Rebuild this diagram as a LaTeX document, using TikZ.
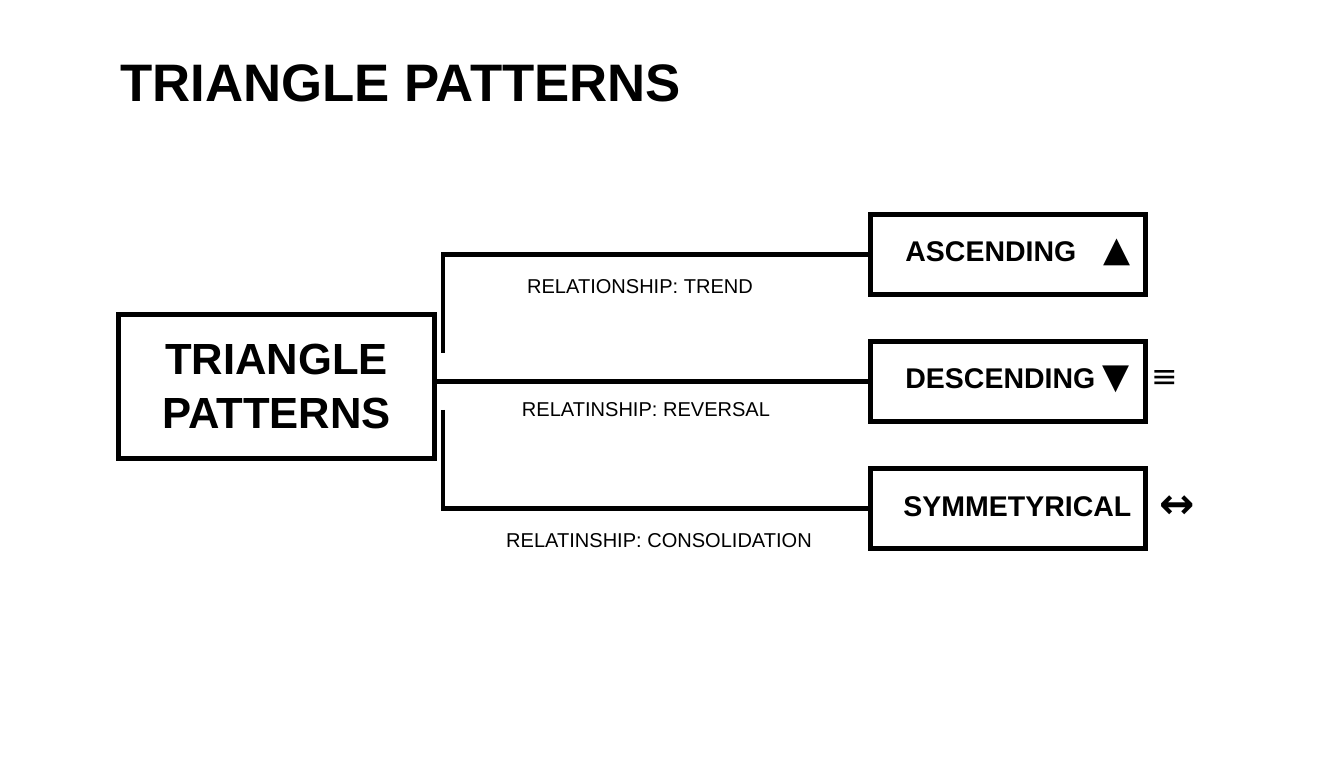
\documentclass[tikz,border=0pt]{standalone}
\usepackage{fontspec}
\setmainfont{Liberation Sans}
\newfontfamily\symfont{DejaVu Sans}
\usetikzlibrary{positioning}
\begin{document}
\begin{tikzpicture}[x=0.01cm,y=-0.01cm,
    box/.style={draw,line width=1.4pt,anchor=north west,inner sep=0pt,minimum width=2.75cm,minimum height=0.8cm},
    boxtext/.style={anchor=west,font={\bfseries\fontsize{8.1}{10}\selectfont}},
    link/.style={line width=1.4pt},
    relation/.style={font={\fontsize{5.7}{7}\selectfont}}]
\useasboundingbox (0,0) rectangle (1344,768);
\node[anchor=west,font={\bfseries\fontsize{15}{18}\selectfont}] (title) at (108,83) {TRIANGLE PATTERNS};
% main node
\node[box,minimum width=3.16cm,minimum height=1.44cm,align=center,font={\bfseries\fontsize{12.4}{15.5}\selectfont}] (root) at (116,312) {TRIANGLE\\PATTERNS};
% pattern boxes
\node[box] (asc) at (868,212) {};
\node[box] (desc) at (868,339) {};
\node[box] (sym) at (868,466) {};
\node[boxtext] (asctext) at (893,252) {ASCENDING};
\node[font={\symfont\fontsize{10}{11}\selectfont}] (ascsym) at (1117,252) {▲};
\node[boxtext] (desctext) at (893,379) {DESCENDING};
\node[font={\symfont\fontsize{10}{11}\selectfont}] (descsym) at (1116,379) {▼};
\node[font={\symfont\fontsize{9}{11}\selectfont}] (eq) at (1165,379) {≡};
\node[boxtext] (symtext) at (891,507) {SYMMETYRICAL};
\node[font={\symfont\bfseries\fontsize{12}{13}\selectfont}] (arr) at (1177,507) {↔};
% connectors
\coordinate (up) at (443,353);
\coordinate (down) at (443,410);
\draw[link] (root.east |- desc.west) -- (desc.west);
\draw[link] (up) -- (up |- asc.west) -- (asc.west);
\draw[link] (down) -- (down |- sym.west) -- (sym.west);
% relation labels
\node[relation] (trend) at (640,287) {RELATIONSHIP: TREND};
\node[relation] (rev) at (646,410) {RELATINSHIP: REVERSAL};
\node[relation] (cons) at (659,541) {RELATINSHIP: CONSOLIDATION};
\end{tikzpicture}
\end{document}
